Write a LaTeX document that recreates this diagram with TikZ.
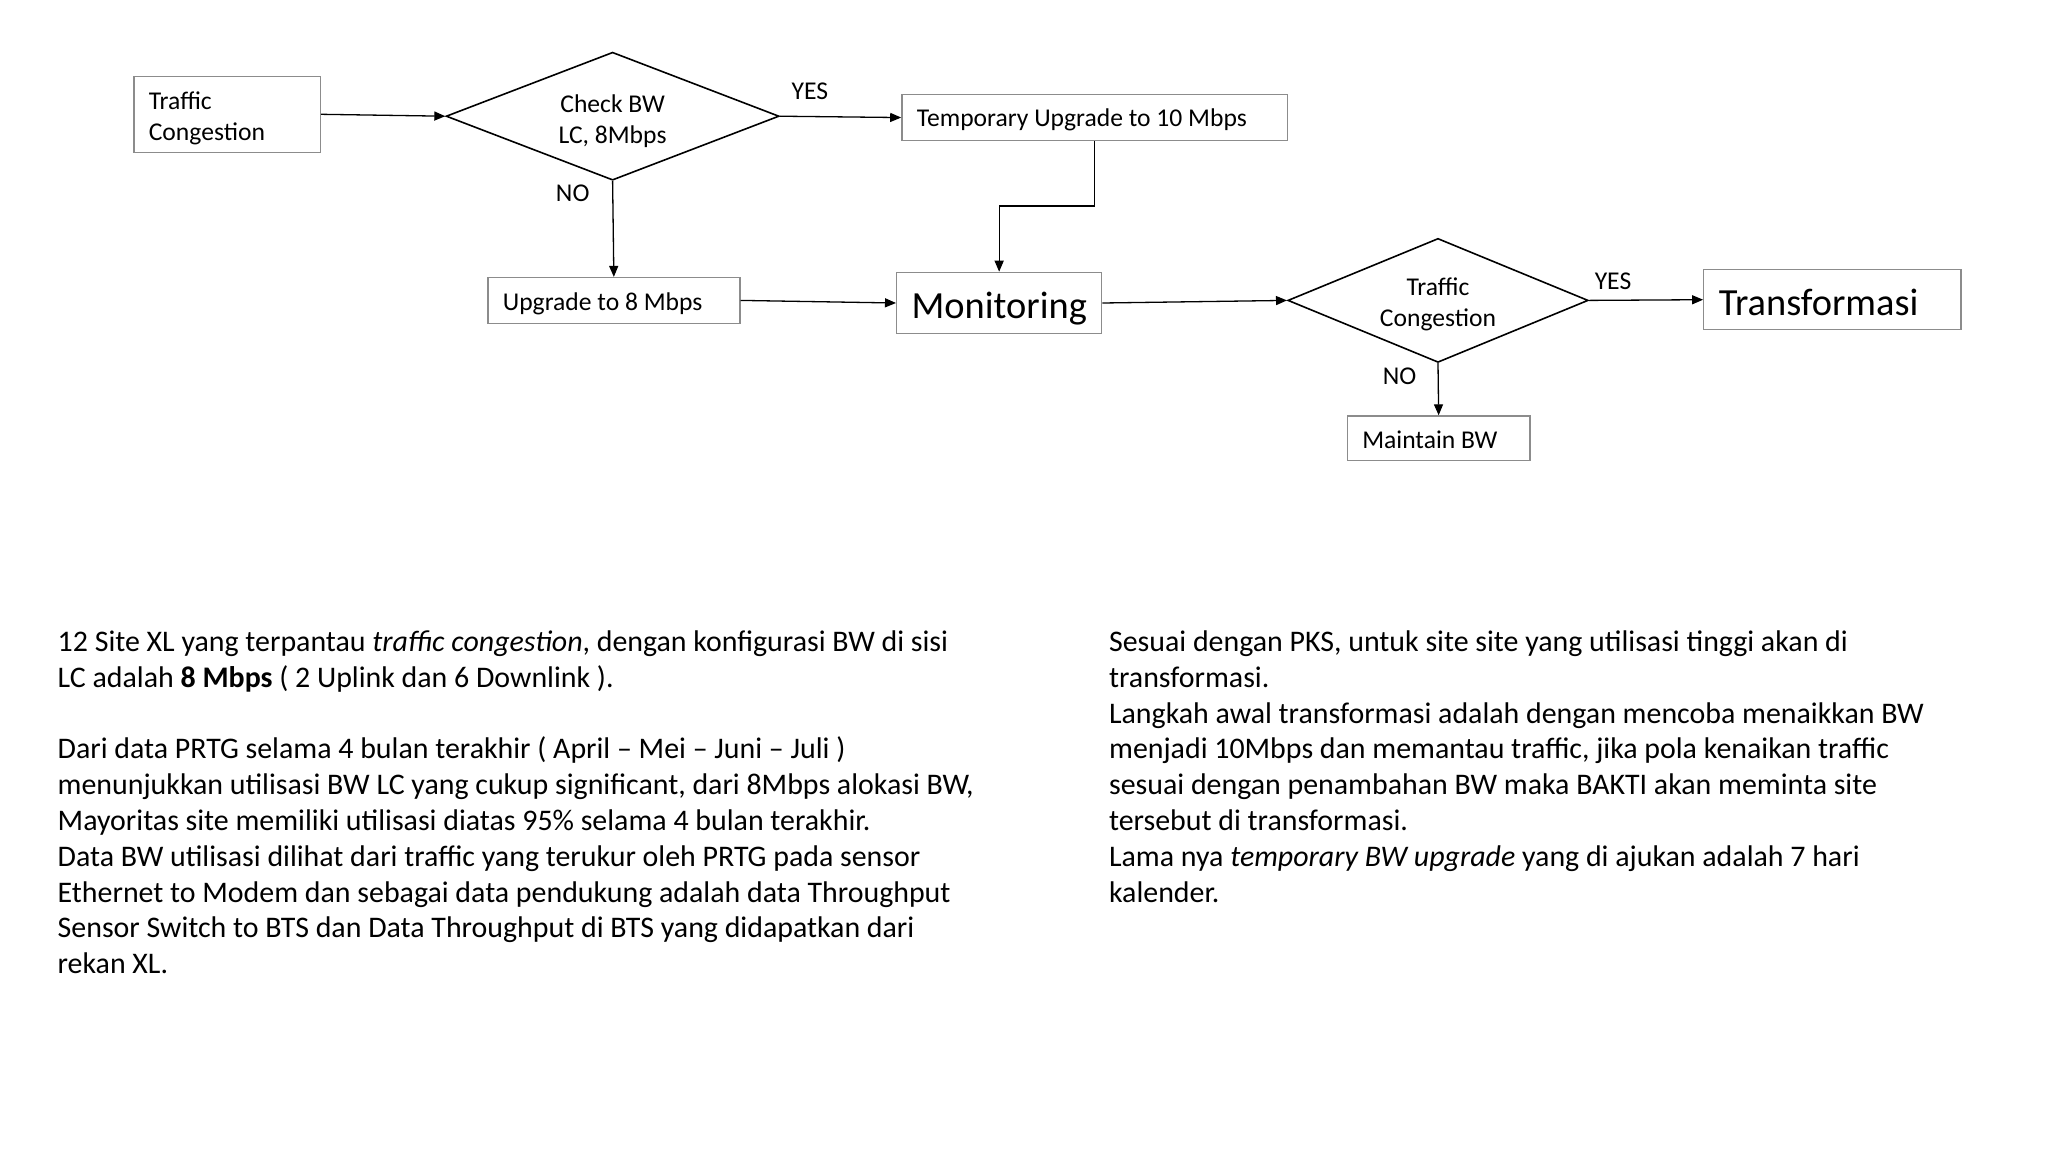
\documentclass[tikz,border=0pt]{standalone}
\usepackage{fontspec}
\setmainfont{Carlito}
\usetikzlibrary{shapes.geometric,arrows.meta}
\definecolor{boxgray}{HTML}{8C8C8C}
\newcommand{\lowertxt}[2]{\raisebox{-#1}[\height][\depth]{#2}}
\begin{document}
\begin{tikzpicture}[x=1pt,y=-1pt,
  box/.style={draw=boxgray, line width=1.3pt, fill=white, inner xsep=15pt, inner ysep=0pt,
              anchor=north west, align=flush left, font=\fontsize{25.6}{30.5}\selectfont},
  bigbox/.style={box, font=\fontsize{38.4}{44}\selectfont},
  dec/.style={diamond, draw=black, line width=1.6pt, inner sep=0pt, aspect=2.6, align=center,
              font=\fontsize{25.6}{30.5}\selectfont},
  arr/.style={draw=black, line width=1.3pt, -{Triangle[length=11pt,width=9pt]}},
  lab/.style={inner sep=0pt, font=\fontsize{25.6}{30}\selectfont},
  body/.style={inner sep=0pt, anchor=north west, align=left, font=\fontsize{29.9}{35.8}\selectfont}
  ]
\useasboundingbox[fill=white] (0,0) rectangle (2048,1152);

% boxes
\node[box, minimum width=185.5pt, minimum height=75.7pt, text width=156.5pt] (tc) at (133.2,75.8)
  {\lowertxt{3.9pt}{Traffic}\\\lowertxt{3.9pt}{Congestion}};
\node[box, minimum width=385.3pt, minimum height=45.8pt, text width=355.3pt] (temp) at (901.2,94)
  {\lowertxt{2.6pt}{Temporary Upgrade to 10 Mbps}};
\node[box, minimum width=252pt, minimum height=45.7pt, text width=222pt] (upg) at (487.2,276.9)
  {\lowertxt{3.9pt}{Upgrade to 8 Mbps}};
\node[bigbox, minimum width=205pt, minimum height=61.3pt, text width=175pt] (mon) at (896,271.7)
  {\lowertxt{5.2pt}{Monitoring}};
\node[bigbox, minimum width=257.3pt, minimum height=60.1pt, text width=227.3pt] (trans) at (1703.1,269)
  {\lowertxt{2.6pt}{Transformasi}};
\node[box, minimum width=182.8pt, minimum height=44.4pt, text width=152.8pt] (maint) at (1346.6,415.3)
  {\lowertxt{1.3pt}{Maintain BW}};

% decisions
\node[dec, minimum width=333pt, minimum height=128pt] (d1) at (612.6,116.2)
  {\lowertxt{5.2pt}{Check BW}\\\lowertxt{5.2pt}{LC, 8Mbps}};
\node[dec, minimum width=300.4pt, minimum height=124pt] (d2) at (1438,300.4)
  {\lowertxt{3.9pt}{Traffic}\\\lowertxt{3.9pt}{Congestion}};

% connectors
\draw[arr] (tc.east) -- (d1.west);
\draw[arr] (d1.east) -- (temp.west);
\draw[arr] (d1.south) -- (upg.north);
\draw[arr] (upg.east) -- (mon.west);
\draw[arr] (temp.south) -- ++(0,65) -| (mon.north);
\draw[arr] (mon.east) -- (d2.west);
\draw[arr] (d2.east) -- (trans.west);
\draw[arr] (d2.south) -- (maint.north);

% labels
\node[lab] (yes1) at (809.8,91.4) {YES};
\node[lab] (no1) at (572.7,193.3) {NO};
\node[lab] (yes2) at (1613,280.8) {YES};
\node[lab] (no2) at (1399.5,376) {NO};

% text blocks
\node[body] (left) at (57.5,630.6) {12 Site XL yang terpantau \textit{traffic congestion}, dengan konfigurasi BW di sisi\\
LC adalah \textbf{8 Mbps} ( 2 Uplink dan 6 Downlink ).\\[35.8pt]
Dari data PRTG selama 4 bulan terakhir ( April -- Mei -- Juni -- Juli )\\
menunjukkan utilisasi BW LC yang cukup significant, dari 8Mbps alokasi BW,\\
Mayoritas site memiliki utilisasi diatas 95\% selama 4 bulan terakhir.\\
Data BW utilisasi dilihat dari traffic yang terukur oleh PRTG pada sensor\\
Ethernet to Modem dan sebagai data pendukung adalah data Throughput\\
Sensor Switch to BTS dan Data Throughput di BTS yang didapatkan dari\\
rekan XL.};

\node[body] (right) at (1108.9,630.6) {Sesuai dengan PKS, untuk site site yang utilisasi tinggi akan di\\
transformasi.\\
Langkah awal transformasi adalah dengan mencoba menaikkan BW\\
menjadi 10Mbps dan memantau traffic, jika pola kenaikan traffic\\
sesuai dengan penambahan BW maka BAKTI akan meminta site\\
tersebut di transformasi.\\
Lama nya \textit{temporary BW upgrade} yang di ajukan adalah 7 hari\\
kalender.};
\end{tikzpicture}
\end{document}
